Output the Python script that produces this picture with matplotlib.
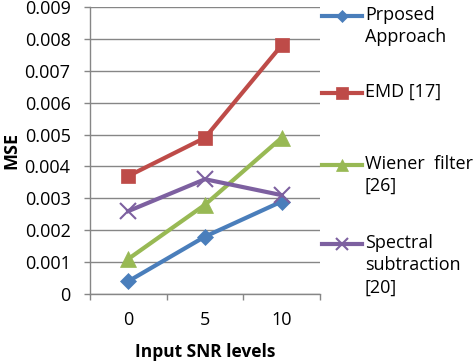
import matplotlib
matplotlib.use('Agg')
import matplotlib.pyplot as plt
from matplotlib.lines import Line2D
from matplotlib.ticker import FixedLocator

# chart data
snr_levels = ['0', '5', '10']
proposed = [0.0004, 0.0018, 0.0029]
emd = [0.0037, 0.0049, 0.0078]
wiener = [0.0011, 0.0028, 0.0049]
spectral = [0.0026, 0.0036, 0.0031]

labels = ['Prposed\nApproach', 'EMD [17]', 'Wiener  filter\n[26]', 'Spectral\nsubtraction\n[20]']
colors = ['#4A7EBB', '#BE4B48', '#98B954', '#7D60A0']
markers = ['D', 's', '^', 'x']
msizes = [8, 10, 11, 11]

plt.rcParams['font.family'] = ['Open Sans', 'DejaVu Sans']

fig = plt.figure(figsize=(4.74, 3.61), dpi=100)
ax = fig.add_axes([90/474, 1 - 294/361, 230/474, 287/361])

xs = list(range(len(snr_levels)))
series = [proposed, emd, wiener, spectral]
for vals, c, m, ms in zip(series, colors, markers, msizes):
    ax.plot(xs, vals, color=c, lw=3, marker=m, markersize=ms,
            markeredgewidth=1.5 if m == 'x' else 0.5, markeredgecolor=c,
            zorder=3, clip_on=False)

ax.set_xlim(-0.5, 2.5)
ax.set_ylim(0, 0.009)
ax.set_yticks([i * 0.001 for i in range(10)])
ax.set_yticklabels(['0'] + ['%.3f' % (i * 0.001) for i in range(1, 10)])
ax.set_xticks(xs)
ax.set_xticklabels(snr_levels)
ax.xaxis.set_minor_locator(FixedLocator([-0.5, 0.5, 1.5, 2.5]))
ax.tick_params(axis='x', which='major', length=0, pad=12, labelsize=13)
ax.tick_params(axis='x', which='minor', length=4, color='#868686', width=1)
ax.tick_params(axis='y', length=4, color='#868686', width=1, labelsize=13, pad=10)
ax.grid(axis='y', color='#868686', lw=1)
ax.set_axisbelow(True)
for s in ['top', 'right']:
    ax.spines[s].set_visible(False)
for s in ['left', 'bottom']:
    ax.spines[s].set_color('#868686')
    ax.spines[s].set_linewidth(1)

ax.set_ylabel('MSE', fontsize=13, fontweight='bold', labelpad=3)
ax.set_xlabel('Input SNR levels', fontsize=12.5, fontweight='bold', labelpad=10)

# legend drawn by hand so the markers line up with the first text line
legend_y = [16, 93, 165, 244]
for lab, c, m, ms, yp in zip(labels, colors, markers, msizes, legend_y):
    fy = 1 - yp / 361
    fig.add_artist(Line2D([322/474, 362/474], [fy, fy], color=c, lw=3,
                          transform=fig.transFigure))
    fig.add_artist(Line2D([342/474], [fy], color=c, marker=m, markersize=ms * 0.8,
                          markeredgewidth=1.5 if m == 'x' else 0.5, markeredgecolor=c,
                          transform=fig.transFigure))
    fig.text(365/474, fy + 10/361, lab, fontsize=13, va='top', ha='left',
             linespacing=1.3, transform=fig.transFigure)

plt.savefig('out.png', dpi=100)
